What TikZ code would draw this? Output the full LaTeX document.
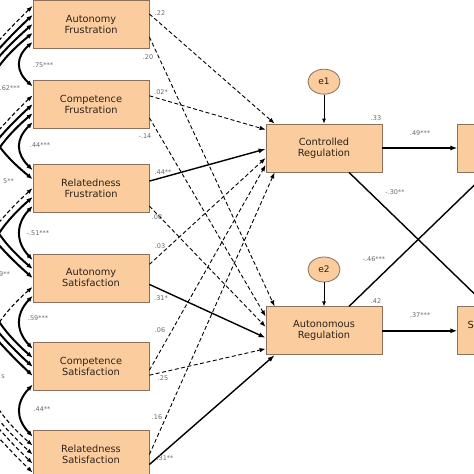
\documentclass[tikz,border=0pt]{standalone}
\usepackage{fontspec}
\setmainfont{DejaVu Sans}
\usepackage{tikz}
\usetikzlibrary{positioning, shapes, arrows.meta}
\definecolor{boxfill}{RGB}{250,204,158}
\definecolor{boxline}{RGB}{140,112,92}
\definecolor{boxtext}{RGB}{45,34,26}
\definecolor{lblgray}{RGB}{105,105,105}
\tikzset{
    box/.style={rectangle, draw=boxline, fill=boxfill, line width=0.8pt, minimum width=116pt, minimum height=48pt, inner sep=0pt, align=center, text=boxtext, font=\fontsize{9.8}{11}\selectfont},
    err/.style={ellipse, draw=boxline, fill=boxfill, line width=0.8pt, minimum width=32pt, minimum height=25pt, inner sep=0pt, text=boxtext, font=\fontsize{9}{10}\selectfont},
    boxtxt/.style={inner sep=0pt, text=boxtext, font=\fontsize{9.8}{11}\selectfont},
    lbl/.style={inner sep=0pt, text=lblgray, font=\fontsize{6.5}{7}\selectfont},
    reg/.style={line width=1.4pt, -{Latex[length=7pt,width=5pt]}},
    regns/.style={line width=0.9pt, dash pattern=on 4pt off 2.5pt, -{Latex[length=6pt,width=4.5pt]}},
    errarr/.style={line width=0.8pt, -{Latex[length=5pt,width=4pt]}},
    cov/.style={line width=2pt, {Latex[length=6pt,width=5pt]}-{Latex[length=6pt,width=5pt]}},
    covns/.style={line width=1.1pt, dash pattern=on 4pt off 2.5pt, {Latex[length=6pt,width=4.5pt]}-{Latex[length=6pt,width=4.5pt]}},
}
\begin{document}
\begin{tikzpicture}[x=1pt, y=-1pt]% pixel grid, y runs down
    \useasboundingbox (0,0) rectangle (474,474);
    \clip (0,0) rectangle (474,474);
    % needs
    \node[box] (af) at (91,24) {Autonomy\\Frustration};
    \node[box] (cf) [below=31.5pt of af] {Competence\\Frustration};
    \node[box] (rf) [below=35pt of cf] {Relatedness\\Frustration};
    \node[box] (as) [below=41pt of rf] {Autonomy\\Satisfaction};
    \node[box] (cs) [below=40pt of as] {Competence\\Satisfaction};
    \node[box] (rs) [below=39pt of cs] {Relatedness\\Satisfaction};
    % mediators and outcomes
    \node[box] (cr) at (324,148) {Controlled\\Regulation};
    \node[box] (ar) [below=134pt of cr] {Autonomous\\Regulation};
    \node[err] (e1) [above=29pt of cr] {e1};
    \node[err] (e2) [above=24pt of ar] {e2};
    \node[box] (ts) [right=75pt of cr] {};
    \node[box] (sv) [right=75pt of ar] {};
    \node[boxtxt] (sv-s) [right=10pt of sv.west, yshift=5.5pt] {S};
    % covariances
    \draw[cov] ([yshift=-18pt]af.west) .. controls +(-17,15) and +(-17,-15) .. ([yshift=18pt]cf.west);
    \draw[cov] ([yshift=-9pt]af.west) .. controls +(-63,51) and +(-63,-51) .. ([yshift=9pt]rf.west);
    \draw[cov] (af.west) .. controls +(-100,88) and +(-100,-88) .. (as.west);
    \draw[cov] ([yshift=9pt]af.west) .. controls +(-133,125) and +(-133,-125) .. ([yshift=-9pt]cs.west);
    \draw[covns] ([yshift=18pt]af.west) .. controls +(-167,162) and +(-167,-162) .. ([yshift=-18pt]rs.west);
    \draw[cov] ([yshift=-18pt]cf.west) .. controls +(-17,17) and +(-17,-17) .. ([yshift=18pt]rf.west);
    \draw[cov] ([yshift=-9pt]cf.west) .. controls +(-63,54) and +(-63,-54) .. ([yshift=9pt]as.west);
    \draw[cov] (cf.west) .. controls +(-100,91) and +(-100,-91) .. (cs.west);
    \draw[covns] ([yshift=9pt]cf.west) .. controls +(-133,128) and +(-133,-128) .. ([yshift=-9pt]rs.west);
    \draw[cov] ([yshift=-18pt]rf.west) .. controls +(-17,18) and +(-17,-18) .. ([yshift=18pt]as.west);
    \draw[cov] ([yshift=-9pt]rf.west) .. controls +(-63,55) and +(-63,-55) .. ([yshift=9pt]cs.west);
    \draw[covns] (rf.west) .. controls +(-100,92) and +(-100,-92) .. (rs.west);
    \draw[cov] ([yshift=-18pt]as.west) .. controls +(-17,18) and +(-17,-18) .. ([yshift=18pt]cs.west);
    \draw[covns] ([yshift=-9pt]as.west) .. controls +(-63,55) and +(-63,-55) .. ([yshift=9pt]rs.west);
    \draw[cov] ([yshift=-18pt]cs.west) .. controls +(-17,18) and +(-17,-18) .. ([yshift=18pt]rs.west);
    \node[lbl] (c12) at (43,65) {.75***};
    \node[lbl] (c23) at (40,145) {.44***};
    \node[lbl] (c34) at (38,233) {-.51***};
    \node[lbl] (c45) at (38,318) {.59***};
    \node[lbl] (c56) at (42,409) {.44**};
    \node[lbl, anchor=east] (c13) at (20,88) {.62***};
    \node[lbl, anchor=east] (c24) at (14,181) {5**};
    \node[lbl, anchor=east] (c35) at (10,274) {9**};
    \node[lbl, anchor=east] (c46) at (5,377) {s};
    % paths to regulation
    \draw[regns] ([yshift=10pt]af.east) -- ([xshift=9pt]cr.north west);
    \draw[regns] ([yshift=-13pt]af.east) -- ([xshift=9pt]ar.north west);
    \draw[regns] ([yshift=8.5pt]cf.east) -- ([yshift=-6pt]cr.north west);
    \draw[regns] ([yshift=-13.5pt]cf.east) -- ([yshift=-10pt]ar.north west);
    \draw[reg] ([yshift=7pt]rf.east) -- ([yshift=-1pt]cr.west);
    \draw[regns] ([yshift=-18pt]rf.east) -- ([yshift=4pt]ar.west);
    \draw[regns] ([yshift=13.5pt]as.east) -- ([yshift=-10pt]cr.west);
    \draw[reg] ([yshift=-6.5pt]as.east) -- ([yshift=-7pt]ar.west);
    \draw[regns] ([yshift=-3.5pt]cs.east) -- ([yshift=-17pt]cr.west);
    \draw[regns] ([yshift=-8.5pt]cs.east) -- ([yshift=-18pt]ar.west);
    \draw[regns] (rs.east) -- ([xshift=9pt]cr.south west);
    \draw[reg] ([yshift=-10pt]rs.east) -- ([xshift=9pt]ar.south west);
    \node[lbl] (p-af-cr) at (160,13) {.22};
    \node[lbl] (p-af-ar) at (148,57) {.20};
    \node[lbl] (p-cf-cr) at (161,92) {.02*};
    \node[lbl] (p-cf-ar) at (145,136) {-.14};
    \node[lbl] (p-rf-cr) at (163,172) {.44**};
    \node[lbl] (p-rf-ar) at (157,217) {.08};
    \node[lbl] (p-as-cr) at (160,246) {.03};
    \node[lbl] (p-as-ar) at (161,298) {.31*};
    \node[lbl] (p-cs-cr) at (160,330) {.06};
    \node[lbl] (p-cs-ar) at (163,378) {.25};
    \node[lbl] (p-rs-cr) at (157,417) {.16};
    \node[lbl] (p-rs-ar) at (165,458) {.31**};
    % errors and outcomes
    \draw[errarr] (e1) -- (cr);
    \draw[errarr] (e2) -- (ar);
    \draw[reg] (cr) -- (ts);
    \draw[reg] (ar) -- (sv);
    \draw[reg] ([xshift=25pt]cr.south) -- ([xshift=30pt]sv.north west);
    \draw[reg] ([xshift=25pt]ar.north) -- ([xshift=30pt]ts.south west);
    \node[lbl] (r-cr) at (376,118) {.33};
    \node[lbl] (r-ar) at (376,301) {.42};
    \node[lbl] (p-cr-ts) at (420,133) {.49***};
    \node[lbl] (p-cr-sv) at (395,192) {-.30**};
    \node[lbl] (p-ar-ts) at (374,259) {-.46***};
    \node[lbl] (p-ar-sv) at (420,315) {.37***};
\end{tikzpicture}
\end{document}
